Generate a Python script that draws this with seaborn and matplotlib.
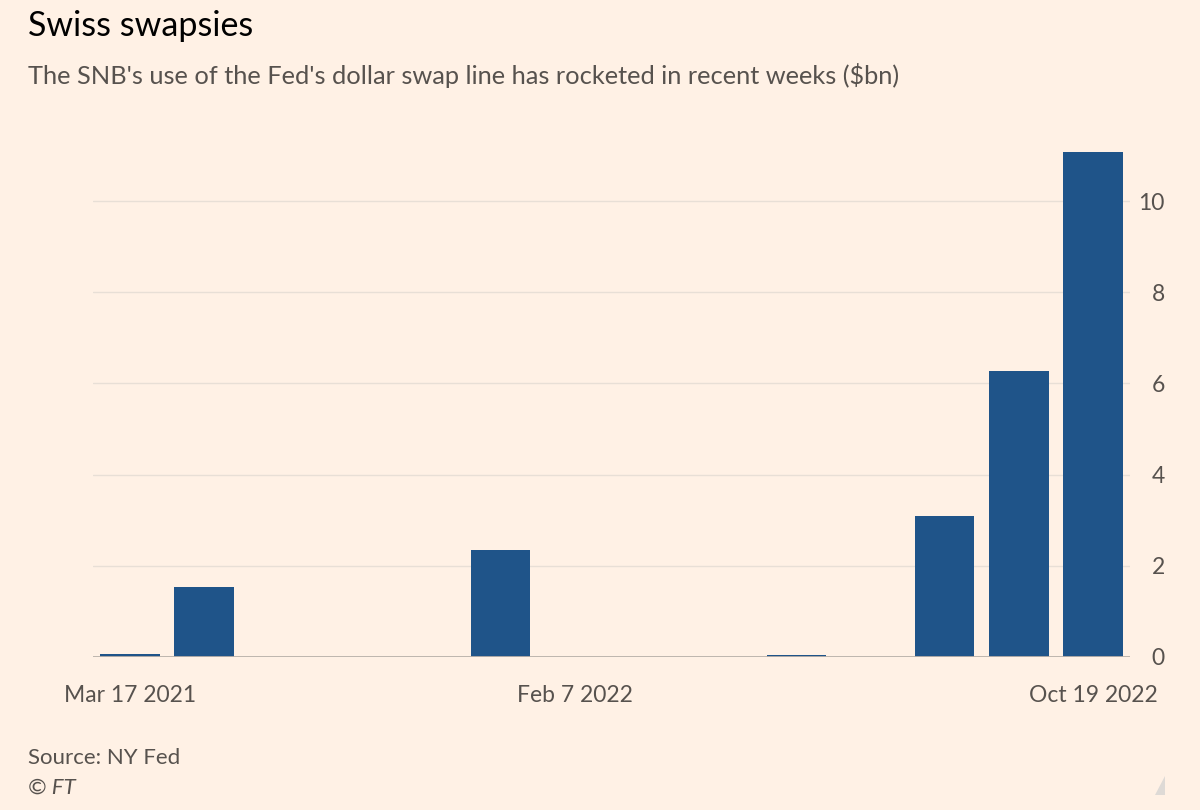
import numpy as np
import pandas as pd
import matplotlib.pyplot as plt
import seaborn as sns
from matplotlib.patches import Polygon

# Weekly SNB usage of the Fed dollar swap line ($bn), one slot per operation
slots = list(range(14))
amounts = [0.06, 1.54, 0.0, 0.0, 0.005, 2.35, 0.0, 0.0, 0.005, 0.04, 0.01, 3.09, 6.27, 11.07]
tick_slots = [0, 6, 13]
tick_labels = ["Mar 17 2021", "Feb 7 2022", "Oct 19 2022"]
y_ticks = [0, 2, 4, 6, 8, 10]

bg = "#FFF1E5"
bar_color = "#1F5489"
grid_color = "#E8DFD6"
text_grey = "#57524E"

sns.set_theme(style="white")
plt.rcParams['font.family'] = ['Lato', 'DejaVu Sans']

df = pd.DataFrame({"slot": slots, "amount": amounts})

fig = plt.figure(figsize=(12, 8.1), dpi=100, facecolor=bg)
ax = fig.add_axes([0.0775, 0.1889, 0.8642, 0.6247])
ax.set_facecolor(bg)

sns.barplot(data=df, x="slot", y="amount", color=bar_color, saturation=1,
            width=0.8, linewidth=0, ax=ax, zorder=3)

ax.set_xlim(-0.5, 13.5)
ax.set_ylim(0, 11.1)

# grid
for yv in y_ticks[1:]:
    ax.axhline(yv, color=grid_color, lw=1, zorder=1)
ax.axhline(0, color="#B9B1AA", lw=1.3, zorder=4)

for s in ax.spines.values():
    s.set_visible(False)

ax.yaxis.tick_right()
ax.set_yticks(y_ticks)
ax.set_yticklabels([str(v) for v in y_ticks], ha="right")
ax.tick_params(axis="y", length=0, pad=25, labelsize=16.5, labelcolor=text_grey)

ax.set_xticks(tick_slots)
ax.set_xticklabels(tick_labels)
ax.tick_params(axis="x", length=14, width=1, color="#B9B1AA", pad=6,
               labelsize=16.5, labelcolor=text_grey)
ax.set_xlabel("")
ax.set_ylabel("")

fig.text(0.023, 0.988, "Swiss swapsies", fontsize=24.5, color="#000000", va="top")
fig.text(0.023, 0.922, "The SNB's use of the Fed's dollar swap line has rocketed in recent weeks ($bn)",
         fontsize=18.3, color=text_grey, va="top")
fig.text(0.023, 0.064, "Source: NY Fed", fontsize=16, color=text_grey, va="center")
fig.text(0.023, 0.027, "© FT", fontsize=16, color=text_grey, va="center", style="italic")

fig.patches.append(Polygon([[0.9625, 0.018], [0.9708, 0.018], [0.9708, 0.042]],
                           closed=True, transform=fig.transFigure,
                           facecolor="#DEDAD6", edgecolor="none"))

plt.savefig("out.png", dpi=100, facecolor=bg)
